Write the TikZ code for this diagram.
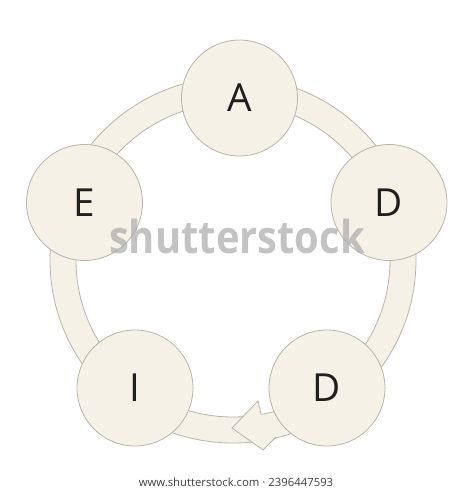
\documentclass[tikz,border=0pt]{standalone}
\usepackage{fontspec}
\setmainfont{Open Sans}
\definecolor{ringfill}{RGB}{246,241,231}
\definecolor{ringline}{RGB}{185,180,172}
\definecolor{markgray}{RGB}{175,175,175}

\begin{document}
\begin{tikzpicture}[x=0.75pt,y=-0.75pt,
    phase/.style={circle,draw=ringline,fill=ringfill,line width=0.6pt,minimum size=87pt,inner sep=0pt,
      font=\fontsize{29}{29}\selectfont,text=black!88},
    band/.style={draw=ringline,line width=0.6pt}]
        \useasboundingbox (0,0) rectangle (474,489);
        \coordinate (O) at (233,260);

        % ring
        \fill[ringfill,even odd rule] (O) circle[radius=183] (O) circle[radius=157];
        \draw[band] (O) circle[radius=183] (O) circle[radius=157];

        % arrow head on the ring
        \coordinate (tip) at (232,428);
        \coordinate (up) at (258,401);
        \coordinate (low) at (263,450);
        \coordinate (inr) at (261,414);
        \coordinate (outr) at (276,437);
        \fill[ringfill] (tip) -- (up) -- (inr) -- (outr) -- (low) -- cycle;
        \draw[band] (inr) -- (up) -- (tip) -- (low) -- (outr);

        \node[phase] (a) at (239.5,98) {A};
        \node[phase] (d1) at (389,202.5) {D};
        \node[phase] (d2) at (327,388) {D};
        \node[phase] (i) at (135,388) {I};
        \node[phase] (e) at (84.5,202.5) {E};

        \node[anchor=base,xscale=0.88,text=markgray,opacity=0.75,font=\bfseries\fontsize{34}{34}\selectfont] (mark) at (237,253) {shutterstock};
        \node[font=\fontsize{8.5}{10}\selectfont,text=black!75] (credit) at (236,482) {www.shutterstock.com · 2396447593};
    \end{tikzpicture}
\end{document}
